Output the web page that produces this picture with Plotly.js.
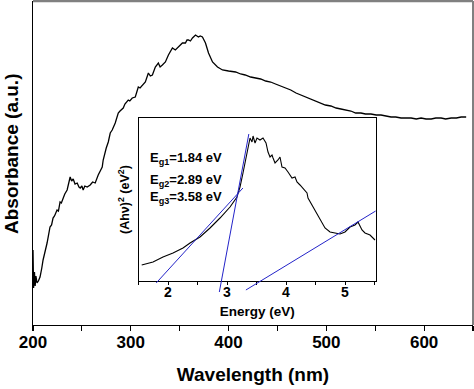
<!DOCTYPE html>
<html>
<head>
<meta charset="utf-8">
<script src="https://cdn.plot.ly/plotly-3.0.1.min.js"></script>
<style>html,body{margin:0;padding:0;background:#fff}#chart{width:474px;height:389px}</style>
</head>
<body>
<div id="chart"></div>
<script>
// Main UV-vis spectrum: wavelength (nm) and absorbance (a.u.)
const wavelength = [200.0,200.6,201.5,202.2,203.0,204.1,205.5,207.2,209.0,210.3,214.4,217.4,219.0,220.5,222.0,224.6,226.0,227.7,229.0,230.8,232.5,234.9,236.5,238.0,239.5,241.1,243.0,245.2,247.0,248.3,250.0,251.3,253.0,255.4,258.5,261.0,263.6,266.7,270.8,271.8,274.9,277.0,279.0,281.0,284.1,286.0,287.2,289.0,292.3,294.0,297.4,299.0,301.5,304.6,307.7,309.5,311.8,314.9,318.0,320.0,322.1,325.1,328.2,330.0,332.3,335.4,338.5,340.0,342.6,345.6,348.7,351.0,352.8,355.9,357.5,359.0,361.0,363.1,366.2,369.2,371.0,373.3,376.4,379.5,383.6,388.7,393.8,400.0,407.2,412.3,417.0,422.6,428.0,432.8,438.0,443.1,448.0,453.3,458.0,463.6,469.0,473.8,479.0,484.1,489.0,494.4,499.0,504.6,510.0,514.9,520.0,525.1,530.0,535.4,540.0,545.6,551.0,555.9,561.0,566.2,571.0,576.4,581.0,586.7,592.0,596.9,602.0,607.2,612.0,617.4,622.0,627.7,633.0,637.9,643.0,648.2,650.0];
const absorbance = [75,37,53,39,49,42,44,48,57,65,82,98,100,107,109,115,114,123,122,128,131,135,143,148,144,146,141,142,138,137,139,135,139,138,140,143,142,150,158,165,177,183,192,195,202,207,212,214,217,221,225,224,227,228,238,237,240,243,252,249,250,258,262,258,260,263,270,273,277,275,278,280,282,282,285,285,284,287,290,288,289,288,282,272,263,258,255,254,253,251,250,248,247,246,244,243,241,239,237,235,232,230,228,226,224,222,220,219,217,216,215,214,212,212,211,211,210,210,209,208,208,207,207,207,206,207,206,206,207,207,206,207,207,208,208];

// Inset: Tauc plot, photon energy (eV) vs (Ahν)^2
const energy = [1.554,1.746,1.915,2.085,2.254,2.373,2.542,2.712,2.881,3.051,3.169,3.220,3.271,3.322,3.356,3.390,3.424,3.441,3.475,3.508,3.559,3.610,3.661,3.695,3.729,3.763,3.780,3.814,3.864,3.898,3.932,3.983,4.034,4.102,4.153,4.186,4.237,4.288,4.356,4.373,4.441,4.492,4.542,4.610,4.661,4.746,4.831,4.915,5.000,5.085,5.169,5.220,5.288,5.339,5.424,5.508];
const tauc = [16,19,24,28,33,38,44,53,63,74,84,94,108,124,134,143,139,145,138,143,141,143,138,129,124,126,123,118,121,124,114,113,109,103,104,99,96,93,88,83,76,71,66,59,53,49,48,47,49,54,56,59,51,48,46,41];

// Linear fits (endpoints) for band gaps
const fit1E = [1.80, 3.27], fit1Y = [-2, 93];
const fit2E = [2.87, 3.37], fit2Y = [-11, 147];
const fit3E = [3.32, 5.52], fit3Y = [-9, 70];
const gapLabels = ['E<sub>g1</sub>=1.84 eV','E<sub>g2</sub>=2.89 eV','E<sub>g3</sub>=3.58 eV'];

const FONT = 'Arial, "Liberation Sans", sans-serif';
const blue = 'rgb(35,35,200)';

const traces = [
  {x: wavelength, y: absorbance, xaxis:'x', yaxis:'y', mode:'lines', line:{color:'#000', width:1.3}, hoverinfo:'skip'},
  {x: energy, y: tauc, xaxis:'x2', yaxis:'y2', mode:'lines', line:{color:'#000', width:1.1}, hoverinfo:'skip'},
  {x: fit1E, y: fit1Y, xaxis:'x3', yaxis:'y3', mode:'lines', line:{color:blue, width:1}},
  {x: fit2E, y: fit2Y, xaxis:'x3', yaxis:'y3', mode:'lines', line:{color:blue, width:1}},
  {x: fit3E, y: fit3Y, xaxis:'x3', yaxis:'y3', mode:'lines', line:{color:blue, width:1}}
];

const insetX = [0.2398, 0.7795];
const layout = {
  width: 474, height: 389,
  margin: {l:33, r:1, t:1, b:64},
  paper_bgcolor:'#fff', plot_bgcolor:'rgba(0,0,0,0)',
  showlegend:false,
  font:{family:FONT, color:'#000'},
  xaxis: {
    domain:[0,1], range:[200,650], anchor:'y',
    showgrid:false, zeroline:false, showline:true, linecolor:'#000', linewidth:1.2,
    ticks:'outside', ticklen:5, tickwidth:1.2, tickcolor:'#000', dtick:100, tick0:200,
    minor:{dtick:50, ticks:'outside', ticklen:5, tickwidth:1.2, tickcolor:'#000'},
    tickfont:{size:17, weight:'bold', family:FONT}, ticklabelstandoff:-4,
    title:{text:'Wavelength (nm)', font:{size:19, weight:'bold', family:FONT}, standoff:17}
  },
  yaxis: {
    domain:[0,1], range:[0,324], anchor:'x',
    showgrid:false, zeroline:false, showline:true, linecolor:'#000', linewidth:1.2,
    ticks:'', showticklabels:false
  },
  xaxis2: {
    domain: insetX, range:[1.5,5.525], anchor:'y2',
    showgrid:false, zeroline:false, showline:true, mirror:true, linecolor:'#000', linewidth:1,
    ticks:'outside', ticklen:3, tickwidth:1, tickcolor:'#000', dtick:1, tick0:2,
    minor:{dtick:0.5, ticks:'outside', ticklen:3, tickwidth:1, tickcolor:'#000'},
    tickfont:{size:14, weight:'bold', family:FONT}, ticklabelstandoff:-5,
    title:{text:'Energy (eV)', font:{size:13.5, weight:'bold', family:FONT}, standoff:7}
  },
  yaxis2: {
    domain:[0.1358, 0.6389], range:[0,163], anchor:'x2',
    showgrid:false, zeroline:false, showline:true, mirror:true, linecolor:'#000', linewidth:1,
    ticks:'', showticklabels:false
  },
  xaxis3: {domain: insetX, range:[1.5,5.525], anchor:'y3', visible:false, fixedrange:true},
  yaxis3: {domain:[0.0988, 0.6389], range:[-12,163], anchor:'x3', visible:false, fixedrange:true},
  shapes: [
    {type:'line', xref:'paper', yref:'paper', x0:0, x1:1, y0:1, y1:1, line:{color:'#808080', width:2.5}},
    {type:'line', xref:'paper', yref:'paper', x0:1, x1:1, y0:0, y1:1, line:{color:'#808080', width:2}}
  ],
  annotations: [
    {text:'Absorbance (a.u.)', xref:'paper', yref:'paper', x:-0.0477, y:0.5278, textangle:-90, showarrow:false,
     xanchor:'center', yanchor:'middle', font:{size:19, weight:'bold', family:FONT}},
    {text:'(Ahν)<sup>2</sup> (eV<sup>2</sup>)', xref:'paper', yref:'paper', x:0.2068, y:0.3889, textangle:-90, showarrow:false,
     xanchor:'center', yanchor:'middle', font:{size:12.5, weight:'bold', family:FONT}},
    {text:gapLabels[0], xref:'paper', yref:'paper', x:0.2614, y:0.5154, showarrow:false, xanchor:'left', yanchor:'middle', font:{size:13, weight:'bold', family:FONT}},
    {text:gapLabels[1], xref:'paper', yref:'paper', x:0.2614, y:0.4475, showarrow:false, xanchor:'left', yanchor:'middle', font:{size:13, weight:'bold', family:FONT}},
    {text:gapLabels[2], xref:'paper', yref:'paper', x:0.2614, y:0.392, showarrow:false, xanchor:'left', yanchor:'middle', font:{size:13, weight:'bold', family:FONT}}
  ]
};

Plotly.newPlot('chart', traces, layout, {staticPlot:true, displayModeBar:false});
</script>
</body>
</html>
